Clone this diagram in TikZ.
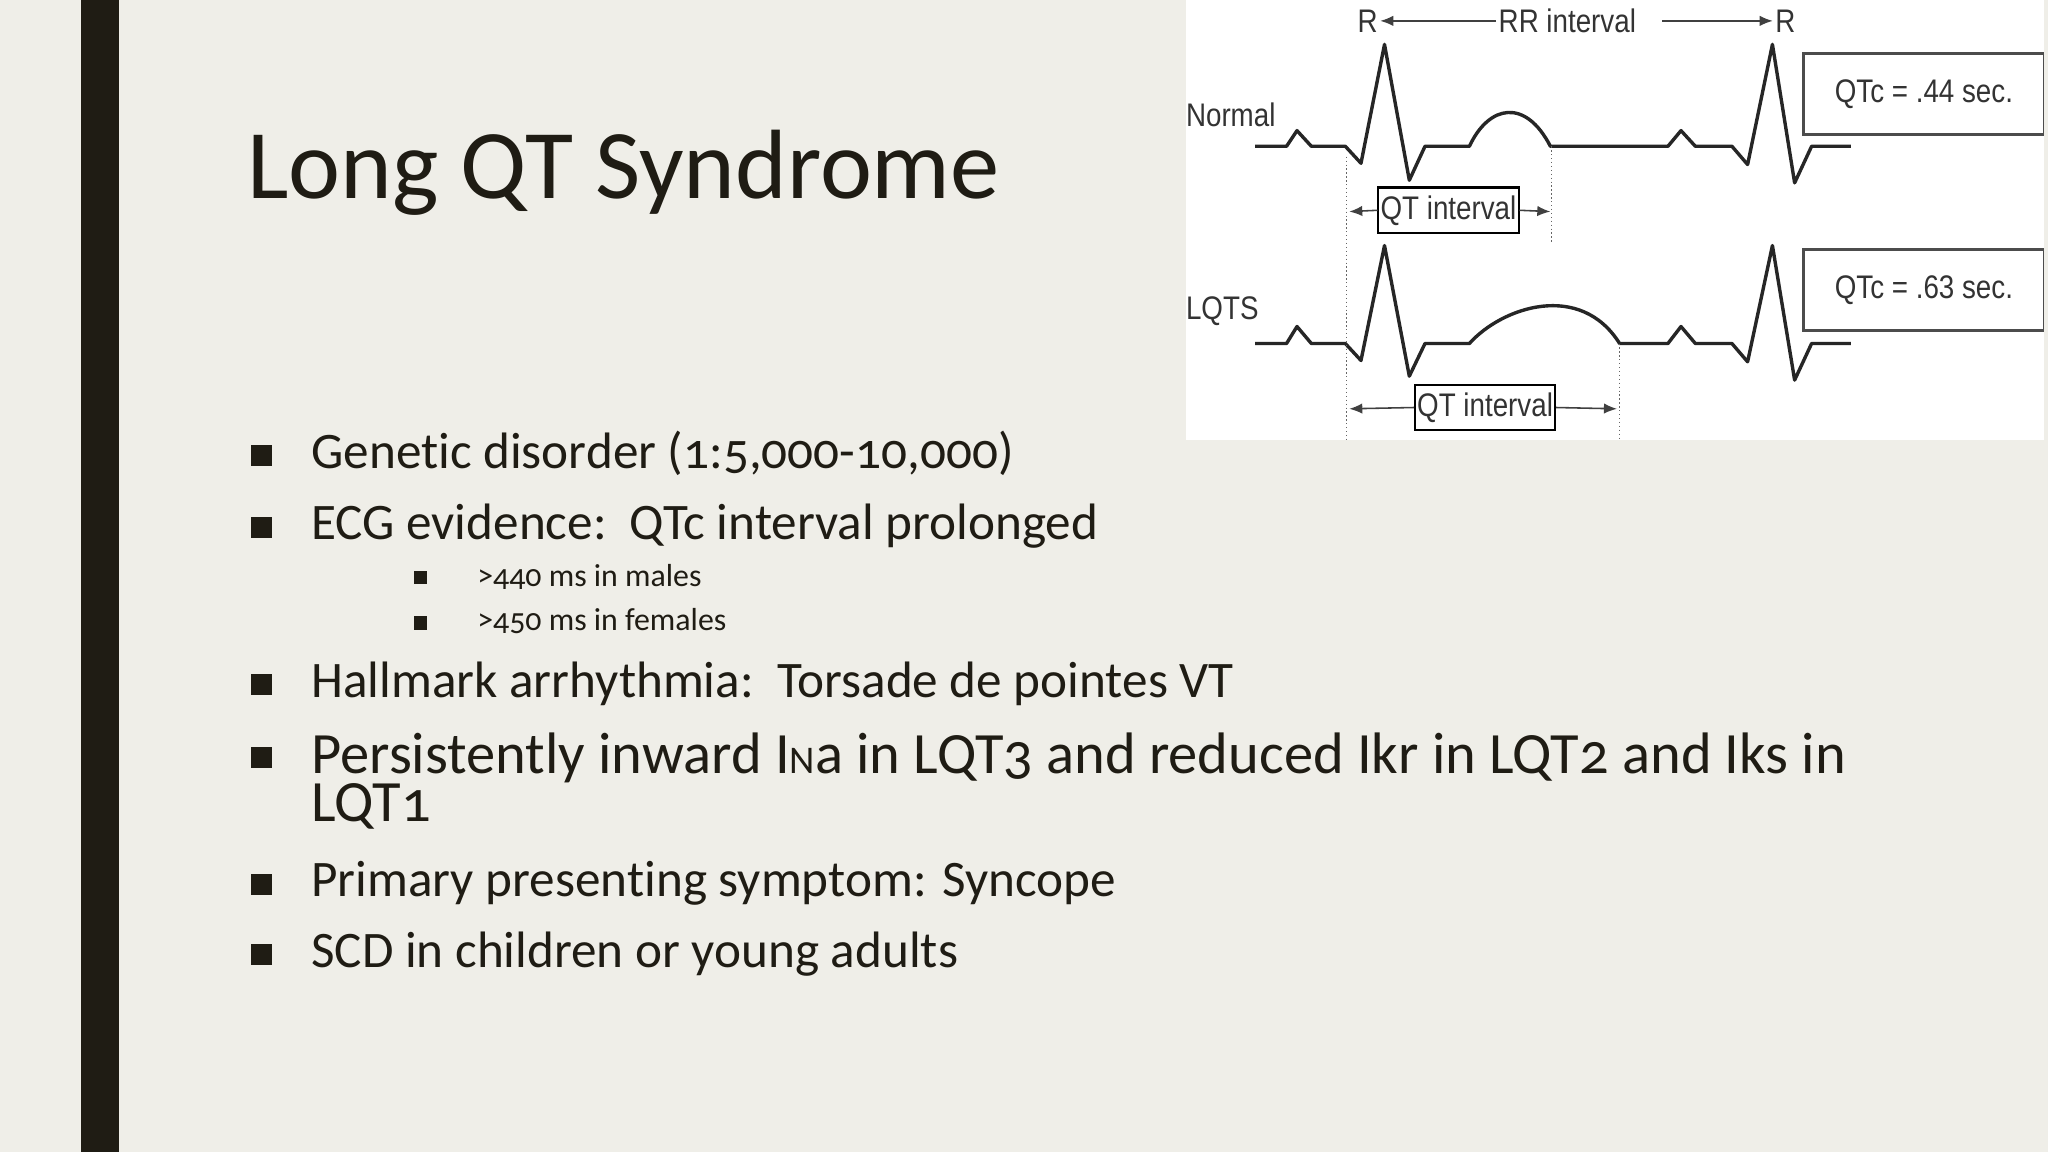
\documentclass[tikz,border=0pt]{standalone}
\usepackage{fontspec}
\setmainfont{Carlito}[Numbers=OldStyle,Ligatures=NoCommon]
\newfontfamily\ecgfont{Liberation Sans}
\usetikzlibrary{arrows.meta}
\definecolor{bg}{HTML}{EFEEE8}
\definecolor{bar}{HTML}{1F1C14}
\definecolor{ink}{HTML}{1F1C14}
\begin{document}
\begin{tikzpicture}[x=0.5pt,y=-0.5pt,
  txt/.style={anchor=base west,inner sep=0,text=ink,font=\fontsize{19.6}{22}\selectfont},
  big/.style={anchor=base west,inner sep=0,text=ink,font=\fontsize{22.4}{24}\selectfont},
  sub/.style={anchor=base west,inner sep=0,text=ink,font=\fontsize{12.2}{14}\selectfont},
  mk/.style={fill=ink,minimum size=8pt,inner sep=0},
  mks/.style={fill=ink,minimum size=5pt,inner sep=0},
  ecg/.style={line width=1.3pt,line join=round,color=black!85},
  el/.style={font=\ecgfont\fontsize{12.5}{13}\selectfont,inner sep=1pt,text=black!80,xscale=0.85},
  dot/.style={densely dotted,line width=0.5pt,black!60},
  arr/.style={-{Latex[length=5pt,width=4pt]},line width=0.6pt,black!75}]
\useasboundingbox (0,0) rectangle (1568,882);
\fill[bg] (0,0) rectangle (1568,882);
\fill[bar] (62,0) rectangle (91,882);
% ECG image
\fill[white] (908,0) rectangle (1568,337);
\node[el,anchor=west] (nl) at (906,88) {Normal};
\node[el,anchor=west] (ll) at (906,238) {LQTS};
\draw[ecg] (961,112)--(985,112)--(993,100)--(1004,112)--(1030,112)--(1042,125)--(1060,34)--(1079,138)--(1091,112)--(1125,112)
  .. controls (1140,80) and (1168,75) .. (1187,112)--(1277,112)--(1287,100)--(1298,112)--(1326,112)--(1338,126)--(1357,34)--(1374,140)--(1387,112)--(1417,112);
\draw[ecg] (961,263)--(985,263)--(993,250)--(1004,263)--(1030,263)--(1042,276)--(1060,188)--(1079,288)--(1091,263)--(1125,263)
  .. controls (1150,235) and (1210,215) .. (1240,263)--(1277,263)--(1287,250)--(1298,263)--(1326,263)--(1338,277)--(1357,188)--(1374,291)--(1387,263)--(1417,263);
\coordinate (d1a) at (1031,120); \coordinate (d1b) at (1031,337);
\coordinate (d2a) at (1188,112); \coordinate (d2b) at (1188,186);
\coordinate (d3a) at (1240,263); \coordinate (d3b) at (1240,337);
\draw[dot] (d1a)--(d1b); \draw[dot] (d2a)--(d2b); \draw[dot] (d3a)--(d3b);
\node[el,draw,line width=0.8pt,inner ysep=3pt] (qt1) at (1109,161) {QT interval};
\node[el,draw,line width=0.8pt,inner ysep=3pt] (qt2) at (1137,312) {QT interval};
\coordinate (q1l) at (1033,162); \coordinate (q1r) at (1187,162);
\coordinate (q2l) at (1033,313); \coordinate (q2r) at (1238,313);
\draw[arr] (qt1.west)--(q1l); \draw[arr] (qt1.east)--(q1r);
\draw[arr] (qt2.west)--(q2l); \draw[arr] (qt2.east)--(q2r);
\node[el] (r1) at (1047,16) {R};
\node[el] (rr) at (1200,16) {RR interval};
\node[el] (r2) at (1367,16) {R};
\draw[arr] (rr.west)--(r1.east);
\draw[arr] (rr.east)++(18,0)--(r2.west);
\node[draw,line width=1pt,black!70,minimum width=92pt,minimum height=31pt,inner sep=0] (b1) at (1473,72) {};
\node[el] at (b1) {QTc = .44 sec.};
\node[draw,line width=1pt,black!70,minimum width=92pt,minimum height=31pt,inner sep=0] (b2) at (1473,222) {};
\node[el] at (b2) {QTc = .63 sec.};
\fill[bg] (1565,0) rectangle (1568,337);
% title
\node[anchor=base west,inner sep=0,text=ink,font=\fontsize{37.7}{40}\selectfont] (title) at (189,152) {Long QT Syndrome};
% bullets
\node[mk] (m1) at (200,349) {}; \node[txt] (t1) at (238,359) {Genetic disorder (1:5,000-10,000)};
\node[mk] (m2) at (200,404) {}; \node[txt] (t2) at (238,413) {ECG evidence:\ \ QTc interval prolonged};
\node[mks] (s1) at (322,442) {}; \node[sub] (u1) at (365,449) {>440 ms in males};
\node[mks] (s2) at (322,477) {}; \node[sub] (u2) at (365,483) {>450 ms in females};
\node[mk] (m3) at (200,524) {}; \node[txt] (t3) at (238,534) {Hallmark arrhythmia:\ \ Torsade de pointes VT};
\node[mk] (m4) at (200,580) {}; \node[big] (t4) at (238,592) {Persistently inward I{\fontsize{15}{15}\selectfont N}a in LQT3 and reduced Ikr in LQT2 and Iks in};
\node[big] (t4b) at (238,629) {LQT1};
\node[mk] (m5) at (200,677) {}; \node[txt] (t5) at (238,686) {Primary presenting symptom: Syncope};
\node[mk] (m6) at (200,731) {}; \node[txt] (t6) at (238,741) {SCD in children or young adults};
\end{tikzpicture}
\end{document}
